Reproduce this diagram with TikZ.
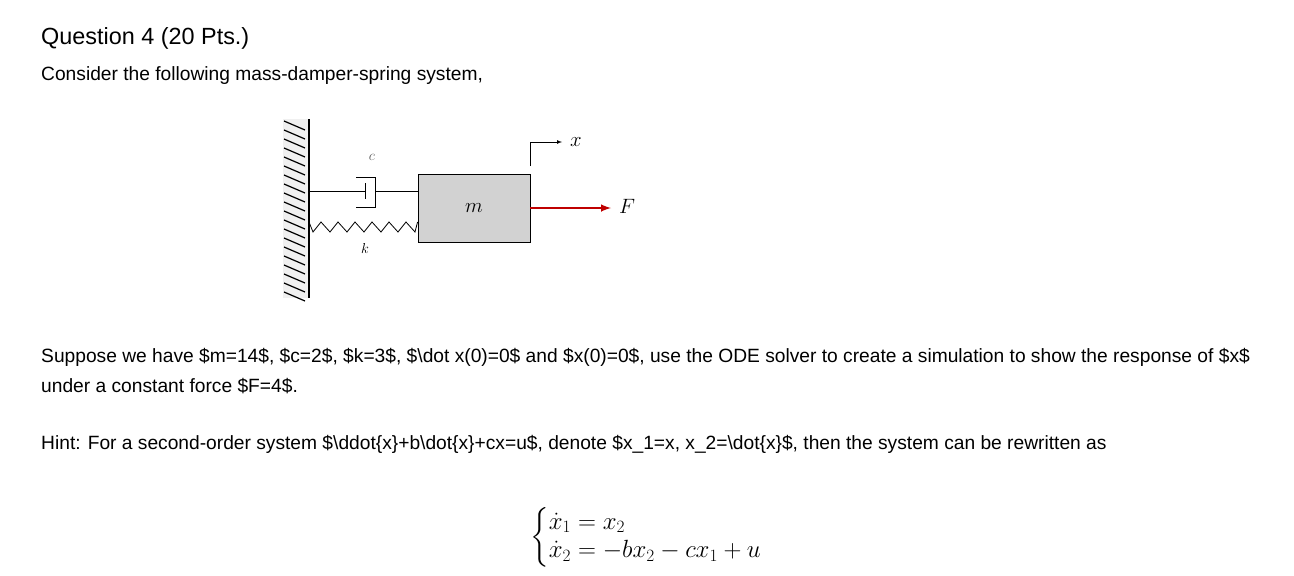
\documentclass[tikz,border=0pt]{standalone}
\usepackage{amsmath}
\usepackage{fontspec}
\setmainfont{Liberation Sans}
\begin{document}
\begin{tikzpicture}[x=1pt,y=-1pt,
  txt/.style={anchor=west,inner sep=0pt,font=\fontsize{19.2}{22}\selectfont},
  lbl/.style={inner sep=0pt,font=\fontsize{15}{17}\selectfont}]
\useasboundingbox (0,0) rectangle (1294,576);
\node[txt,font=\fontsize{23.4}{27}\selectfont] (title) at (41,38) {Question 4 (20 Pts.)};
\node[txt] (l1) at (41,76) {Consider the following mass-damper-spring system,};
\node[txt] (l2) at (41,357) {Suppose we have \$m=14\$, \$c=2\$, \$k=3\$, \$\textbackslash dot x(0)=0\$ and \$x(0)=0\$, use the ODE solver to create a simulation to show the response of \$x\$};
\node[txt] (l3) at (41,386) {under a constant force \$F=4\$.};
\node[txt] (l4) at (41,444) {Hint: For a second-order system \$\textbackslash ddot\{x\}+b\textbackslash dot\{x\}+cx=u\$, denote \$x\_1=x, x\_2=\textbackslash dot\{x\}\$, then the system can be rewritten as};
\node[anchor=west,inner sep=0pt,font=\fontsize{24}{26}\selectfont] (eq) at (530,537)
 {$\begin{cases}\dot x_1 = x_2\\[-3pt] \dot x_2 = -bx_2 - cx_1 + u\end{cases}$};
% wall
\fill[gray!12] (283,119) rectangle (309,298);
\foreach \y in {121,130,...,292} \draw[line width=1.2pt] (284,\y) -- (305,\y+9);
\draw[line width=1.5pt] (309,119) -- (309,298);
% mass
\node[draw,fill=gray!35,minimum width=112pt,minimum height=68pt,inner sep=0pt,line width=0.9pt] (m) at (474,208) {};
\node[lbl,font=\fontsize{21}{24}\selectfont] (ml) at (m) {$m$};
% damper
\draw[line width=0.7pt] (309,191) -- (365,191);
\draw[line width=1pt] (365,183) -- (365,199);
\draw[line width=0.8pt] (356,177) -- (375,177) -- (375,207) -- (356,207);
\draw[line width=0.7pt] (375,191) -- (m.west|-375,191);
\node[lbl,gray!70!black] (c) at (372,157) {$c$};
% spring
\draw[line width=0.8pt] (309,222) -- (313,232) \foreach \i in {0,...,5} { -- ++(8,-10) -- ++(9,10)} -- (m.west|-0,222);
\node[lbl] (k) at (365,248) {$k$};
% x marker
\draw[line width=0.7pt] (530,166) -- (530,142) -- (556,142);
\draw[line width=0.7pt,-latex] (530,142) -- (562,142);
\node[lbl,font=\fontsize{20}{22}\selectfont] (x) at (576,142) {$x$};
% force
\draw[red!75!black,line width=2.4pt,-latex] (m.east|-0,208) -- (611,208);
\node[lbl,font=\fontsize{20}{22}\selectfont] (F) at (627,206) {$F$};
\end{tikzpicture}
\end{document}
